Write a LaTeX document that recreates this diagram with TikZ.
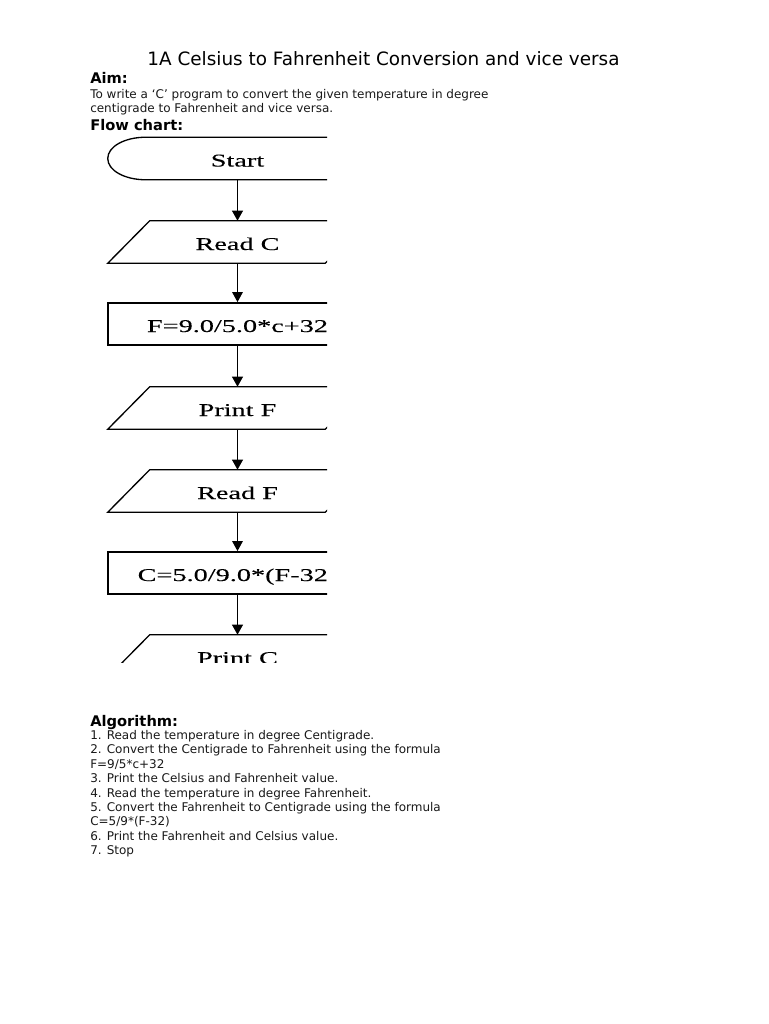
\documentclass[tikz,border=0pt]{standalone}
\usepackage{fontspec}
\setmainfont{DejaVu Sans}
\newfontfamily\fcfont[FakeStretch=1.57,FakeBold=0.15]{Liberation Serif}
\usetikzlibrary{arrows.meta,calc}
\begin{document}
\begin{tikzpicture}[x=0.75pt,y=-0.75pt,
  txt/.style={anchor=base west,inner sep=0,text=black!90,font=\fontsize{9}{11}\selectfont},
  head/.style={anchor=base west,inner sep=0,font=\fontsize{11}{13}\selectfont\bfseries},
  ttl/.style={anchor=base,inner sep=0,font=\fontsize{13.8}{16}\selectfont},
  fcbox/.style={inner sep=0,minimum width=194.25pt,minimum height=31.5pt,text height=12pt,text depth=0pt,font=\fcfont\fontsize{13.5}{15}\selectfont},
  rectbox/.style={fcbox,draw,line width=1.4pt},
  outl/.style={draw,line width=1pt},
  thickarr/.style={line width=1.3pt,-{Triangle[width=8pt,length=7.5pt]}},
  thinarr/.style={line width=0.7pt,-{Triangle[width=8pt,length=7.5pt]}}
]
\fill[white] (0,0) rectangle (768,1024);
\useasboundingbox (0,0) rectangle (768,1024);

% header texts
\node[ttl] (title) at (383.5,66) {1A Celsius to Fahrenheit Conversion and vice versa};
\node[head] (aim) at (90,84) {Aim:};
\node[txt] (aim1) at (90,98.5) {To write a `C' program to convert the given temperature in degree};
\node[txt] (aim2) at (90,113) {centigrade to Fahrenheit and vice versa.};
\node[head] (fch) at (90,130.5) {Flow chart:};

% flow chart (cropped picture)
\begin{scope}
\clip (100,130) rectangle (327,662);
\node[fcbox] (st) at (237.5,158.5) {Start};
\draw[outl] ($(st.north west)+(38,0)$) .. controls ($(st.north west)+(17,0)$) and ($(st.west)+(0,-12)$) .. (st.west)
  .. controls ($(st.west)+(0,12)$) and ($(st.south west)+(17,0)$) .. ($(st.south west)+(38,0)$)
  -- ($(st.south east)+(-38,0)$) .. controls ($(st.south east)+(-17,0)$) and ($(st.east)+(0,12)$) .. (st.east)
  .. controls ($(st.east)+(0,-12)$) and ($(st.north east)+(-17,0)$) .. ($(st.north east)+(-38,0)$) -- cycle;

\node[fcbox] (rc) at (237.5,242) {Read C};
\draw[outl] (rc.south west) -- ($(rc.north west)+(42,0)$) -- (rc.north east) -- ($(rc.south east)+(-42,0)$) -- cycle;

\node[rectbox] (fb) at (237.5,324) {F=9.0/5.0*c+32};

\node[fcbox] (pf) at (237.5,408) {Print F};
\draw[outl] (pf.south west) -- ($(pf.north west)+(42,0)$) -- (pf.north east) -- ($(pf.south east)+(-42,0)$) -- cycle;

\node[fcbox] (rf) at (237.5,491) {Read F};
\draw[outl] (rf.south west) -- ($(rf.north west)+(42,0)$) -- (rf.north east) -- ($(rf.south east)+(-42,0)$) -- cycle;

\node[rectbox] (cb) at (237.5,573) {C=5.0/9.0*(F-32)};

\node[fcbox] (pc) at (237.5,656) {Print C};
\draw[outl] (pc.south west) -- ($(pc.north west)+(42,0)$) -- (pc.north east) -- ($(pc.south east)+(-42,0)$) -- cycle;

\draw[thickarr] (st) -- (rc);
\draw[thinarr] (rc) -- (fb);
\draw[thickarr] (fb) -- (pf);
\draw[thickarr] (pf) -- (rf);
\draw[thinarr] (rf) -- (cb);
\draw[thickarr] (cb) -- (pc);
\end{scope}

% algorithm
\node[head] (alg) at (90,726) {Algorithm:};
\node[txt] (a1) at (90,739) {1. Read the temperature in degree Centigrade.};
\node[txt] (a2) at (90,753.5) {2. Convert the Centigrade to Fahrenheit using the formula};
\node[txt] (a2b) at (90,768) {F=9/5*c+32};
\node[txt] (a3) at (90,782.5) {3. Print the Celsius and Fahrenheit value.};
\node[txt] (a4) at (90,797) {4. Read the temperature in degree Fahrenheit.};
\node[txt] (a5) at (90,811) {5. Convert the Fahrenheit to Centigrade using the formula};
\node[txt] (a5b) at (90,825.5) {C=5/9*(F-32)};
\node[txt] (a6) at (90,840) {6. Print the Fahrenheit and Celsius value.};
\node[txt] (a7) at (90,854.5) {7. Stop};
\end{tikzpicture}
\end{document}
